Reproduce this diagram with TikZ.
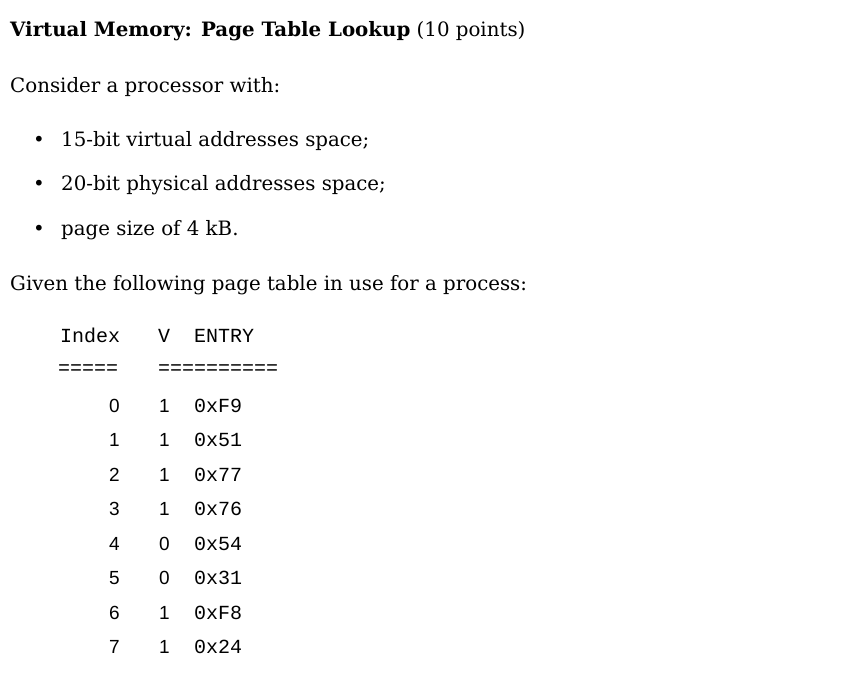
\documentclass[tikz,border=0pt]{standalone}
\usepackage{fontspec}
\setmainfont{DejaVu Serif}
\setmonofont{Liberation Mono}
\setsansfont{Liberation Sans}
\begin{document}
\begin{tikzpicture}[x=1pt,y=-1pt,
  txt/.style={anchor=base west,inner sep=0pt,font=\fontsize{19.8}{24}\selectfont},
  mono/.style={anchor=base west,inner sep=0pt,font=\fontsize{20}{24}\selectfont\ttfamily},
  num/.style={anchor=base east,inner sep=0pt,font=\fontsize{19}{23}\selectfont\sffamily}]
\useasboundingbox (0,0) rectangle (844,694);
\node[txt] (title) at (10,36) {\textbf{Virtual Memory: Page Table Lookup} (10 points)};
\node[txt] (cons) at (10,92) {Consider a processor with:};
\foreach \y/\t [count=\i] in {146/15-bit virtual addresses space;,190/20-bit physical addresses space;,235/page size of 4 kB.}{
  \node[txt] (b\i) at (33,\y) {\textbullet};
  \node[txt] (l\i) at (61,\y) {\t};
}
\node[txt] (given) at (10,290) {Given the following page table in use for a process:};
\node[mono] (hi) at (60,342) {Index};
\node[mono] (hv) at (158,342) {V};
\node[mono] (he) at (194,342) {ENTRY};
\node[mono] (e1) at (58,374) {=====};
\node[mono] (e2) at (158,374) {==========};
\foreach \v/\e [count=\i from 0] in {1/0xF9,1/0x51,1/0x77,1/0x76,0/0x54,0/0x31,1/0xF8,1/0x24}{
  \node[num] (r\i) at (120,{412+34.5*\i}) {\i};
  \node[num] (v\i) at (170,{412+34.5*\i}) {\v};
  \node[mono] (x\i) at (194,{412+34.5*\i}) {\e};
}
\end{tikzpicture}
\end{document}
